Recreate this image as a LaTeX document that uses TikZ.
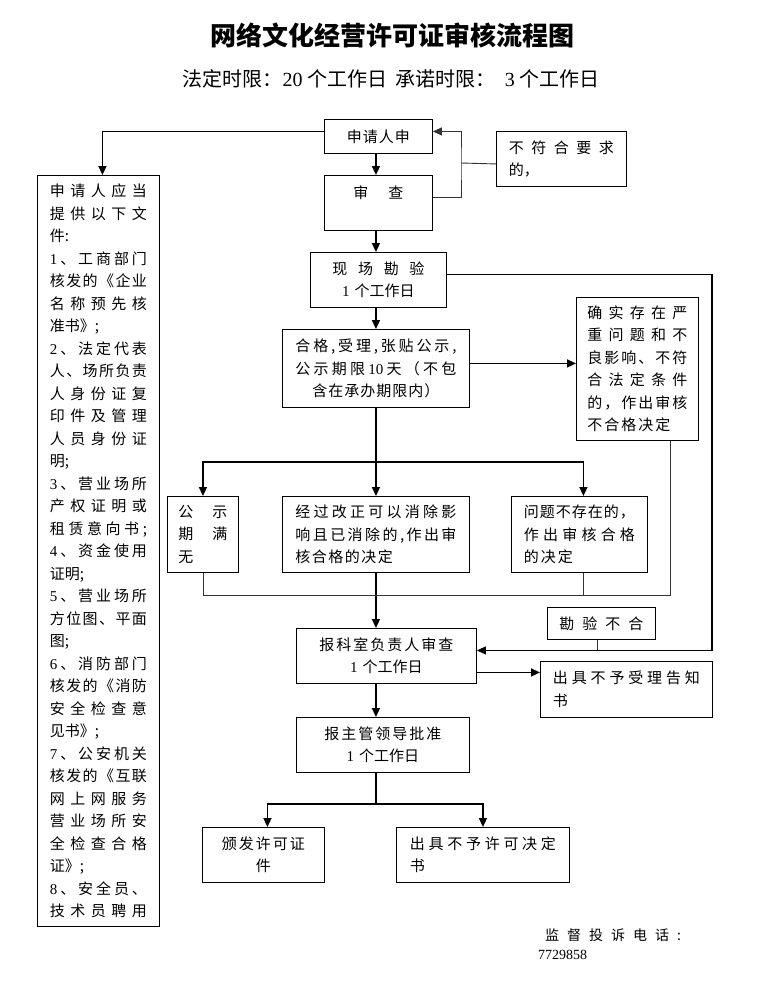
\documentclass[tikz,border=0pt]{standalone}
\usepackage{fontspec}
\setmainfont{Noto Sans CJK SC}
\newfontfamily\tm{Liberation Serif}
\usetikzlibrary{arrows.meta,calc}
\makeatletter
\def\spr@loop#1#2\spr@end{#1\ifx\relax#2\relax\else\spr@sep\spr@loop#2\spr@end\fi}
\newcommand\SP[2]{\makebox[#1][s]{\let\spr@sep\hfil\spr@loop#2\spr@end}}
\newcommand\LS[2][2pt]{{\def\spr@sep{\kern#1}\spr@loop#2\spr@end}}
\makeatother
\begin{document}
\begin{tikzpicture}[x=1pt,y=-1pt,
  box/.style={draw,line width=0.9pt,inner sep=0pt,anchor=north west,font=\fontsize{15}{22.5}\selectfont},
  arr/.style={line width=1.5pt,-{Triangle[length=9pt,width=8pt]}},
  ln/.style={line width=1.5pt},
  tl/.style={line width=0.9pt,draw=black!80},
  tla/.style={line width=0.9pt,draw=black!80,-{Triangle[length=9pt,width=8pt]}},
]
\useasboundingbox[fill=white] (0,0) rectangle (756,988);

\node (title) at (392,35) {\fontsize{26}{30}\selectfont\bfseries 网络文化经营许可证审核流程图};
\node (sub) at (391,79) {\fontsize{20}{22}\selectfont 法定时限：{\tm 20} 个工作日\ \ 承诺时限：\ \ {\tm 3} 个工作日};

% boxes
\node[box,minimum width=108,minimum height=34,align=center] (apply) at (324,119) {\LS[1pt]{申请人申}};
\node[box,minimum width=108,minimum height=55,text width=50pt,align=center] (review) at (324,175) {\SP{50pt}{审查}\\\mbox{}};
\node[box,minimum width=136,minimum height=55,text width=92pt,align=center] (survey) at (310,252) {\SP{92pt}{现场勘验}\\{\tm 1} 个工作日};
\node[box,minimum width=187,minimum height=78,text width=161pt,align=center] (accept) at (282,329) {\SP{161pt}{合格,受理,张贴公示,}\\\SP{161pt}{公示期限{{\tm 10}}天（不包}\\\LS[1pt]{含在承办期限内）}};
\node[box,minimum width=130,minimum height=55,text width=105pt,align=left] (notok) at (496,131) {\SP{105pt}{不符合要求}\\的，};
\node[box,minimum width=122,minimum height=143,text width=100pt,align=left] (serious) at (576,297) {\SP{100pt}{确实存在严}\\\SP{100pt}{重问题和不}\\\SP{100pt}{良影响、不符}\\\SP{100pt}{合法定条件}\\\SP{100pt}{的，作出审核}\\\LS{不合格决定}};
\node[box,minimum width=71,minimum height=76,text width=49pt,align=left] (expire) at (167,496) {\SP{49pt}{公示}\\\SP{49pt}{期满}\\无};
\node[box,minimum width=187,minimum height=76,text width=161pt,align=left] (corrected) at (282,496) {\SP{161pt}{经过改正可以消除影}\\\SP{161pt}{响且已消除的,作出审}\\\LS[1.5pt]{核合格的决定}};
\node[box,minimum width=136,minimum height=76,text width=111pt,align=left] (noproblem) at (511,496) {\SP{111pt}{问题不存在的，}\\\SP{111pt}{作出审核合格}\\\LS{的决定}};
\node[box,minimum width=180,minimum height=55,text width=135pt,align=center] (report) at (296,628) {\LS{报科室负责人审查}\\{\tm 1} 个工作日};
\node[box,minimum width=108,minimum height=32,text width=84pt,align=center] (mismatch) at (547,607) {\SP{84pt}{勘验不合}};
\node[box,minimum width=172,minimum height=56,text width=147pt,align=left] (refuse1) at (540,661) {\SP{147pt}{出具不予受理告知}\\书};
\node[box,minimum width=173,minimum height=55,text width=118pt,align=center] (approve) at (296,717) {\LS{报主管领导批准}\\{\tm 1} 个工作日};
\node[box,minimum width=122,minimum height=55,text width=83pt,align=center] (issue) at (202,827) {\LS{颁发许可证}\\件};
\node[box,minimum width=173,minimum height=55,text width=146pt,align=left] (refuse2) at (396,827) {\SP{146pt}{出具不予许可决定}\\书};
\node[box,minimum width=122,minimum height=751,text width=97pt,align=left] (docs) at (37,175) {%
\SP{97pt}{申请人应当}\\
\SP{97pt}{提供以下文}\\
件:\\
\SP{97pt}{{{\tm 1}}、工商部门}\\
\SP{97pt}{核发的《企业}\\
\SP{97pt}{名称预先核}\\
准书》;\\
\SP{97pt}{{{\tm 2}}、法定代表}\\
\SP{97pt}{人、场所负责}\\
\SP{97pt}{人身份证复}\\
\SP{97pt}{印件及管理}\\
\SP{97pt}{人员身份证}\\
明;\\
\SP{97pt}{{{\tm 3}}、营业场所}\\
\SP{97pt}{产权证明或}\\
\SP{97pt}{租赁意向书;}\\
\SP{97pt}{{{\tm 4}}、资金使用}\\
证明;\\
\SP{97pt}{{{\tm 5}}、营业场所}\\
\SP{97pt}{方位图、平面}\\
图;\\
\SP{97pt}{{{\tm 6}}、消防部门}\\
\SP{97pt}{核发的《消防}\\
\SP{97pt}{安全检查意}\\
见书》;\\
\SP{97pt}{{{\tm 7}}、公安机关}\\
\SP{97pt}{核发的《互联}\\
\SP{97pt}{网上网服务}\\
\SP{97pt}{营业场所安}\\
\SP{97pt}{全检查合格}\\
证》;\\
\SP{97pt}{{{\tm 8}}、安全员、}\\
\SP{97pt}{技术员聘用}};

\node[anchor=west,inner sep=0pt] (tel) at (545,935) {\fontsize{14}{16}\selectfont\LS[8pt]{监督投诉电话}\hspace{8pt}:};
\node[anchor=west,inner sep=0pt] (num) at (538,955) {\tm\fontsize{14}{16}\selectfont 7729858};

% helper coordinates
\coordinate (jn) at (461,163);
\coordinate (rcol) at (712,400);
\coordinate (bjy) at (0,462);
\coordinate (jy) at (0,595);
\coordinate (bj2y) at (0,804);
\coordinate (sv) at ([xshift=33pt]serious.south);
\coordinate (r1) at ([yshift=-16.5pt]report.east);
\coordinate (rin) at ([yshift=5.5pt]report.east);
\coordinate (bj) at (accept.south |- bjy);
\coordinate (bj2) at (approve.south -| accept.south);
\coordinate (bj2b) at (bj2 |- bj2y);

% connectors
\draw[arr] ([yshift=5pt]apply.west) -| ([xshift=4pt]docs.north);
\draw[arr] (apply.south -| accept.south) -- (review.north -| accept.south);
\draw[arr] (review.south -| accept.south) -- (survey.north -| accept.south);
\draw[arr] (survey.south -| accept.south) -- (accept.north);
\draw[tl] ([yshift=-5pt]notok.west) -- (jn);
\draw[tla] ([yshift=5.5pt]review.east) -| (jn) |- ([yshift=5pt]apply.east);
\draw[ln,line width=1.1pt] ([yshift=5.5pt]survey.east) -| (rcol);
\draw[arr,line width=1.1pt] (rcol) |- (rin);
\draw[tl] ([xshift=-4pt]mismatch.south) -- ([xshift=-4pt]mismatch.south |- rin);
\draw[arr] ([yshift=5pt]accept.east) -- ([yshift=5pt]accept.east -| serious.west);
\draw[arr] (accept.south) -- (corrected.north -| accept.south);
\draw[arr] (bj) -| (expire.north);
\draw[arr] (bj) -| ([xshift=4pt]noproblem.north);
\draw[arr] (corrected.south -| accept.south) -- (report.north -| accept.south);
\draw[tl] (expire.south) |- (sv |- jy) -- (sv);
\draw[tl] ([xshift=4pt]noproblem.south) -- ([xshift=4pt]noproblem.south |- jy);
\draw[arr] (r1) -- (r1 -| refuse1.west);
\draw[arr] (report.south -| accept.south) -- (approve.north -| accept.south);
\draw[ln] (bj2) -- (bj2b);
\draw[arr] (bj2b) -| ([xshift=4pt]issue.north);
\draw[arr] (bj2b) -| (refuse2.north);
\end{tikzpicture}
\end{document}
